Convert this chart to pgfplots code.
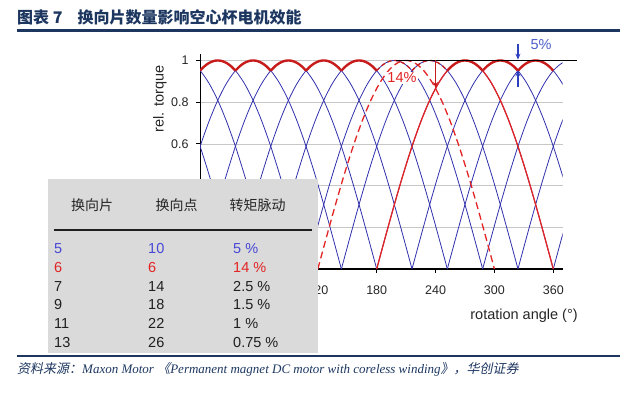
\documentclass[border=0pt]{standalone}
\usepackage{fontspec}
\setmainfont{Liberation Sans}
\newfontfamily\cjk{Noto Sans CJK SC}
\newfontfamily\cjksl[FakeSlant=0.2]{Noto Sans CJK SC}
\newfontfamily\serifit{Liberation Serif}
\usepackage{pgfplots}
\pgfplotsset{compat=1.18}
\usepackage{pgfplotstable}
\usetikzlibrary{arrows.meta}

\definecolor{bl}{RGB}{48,48,172}
\definecolor{tblue}{RGB}{72,72,215}
\definecolor{rd}{RGB}{226,36,36}
\definecolor{drd}{RGB}{200,28,28}
\definecolor{navy}{RGB}{28,54,96}
\definecolor{boxgray}{RGB}{218,218,218}
\definecolor{arrblue}{RGB}{45,65,190}

% one commutation arch (relative torque vs. angle)
\pgfplotstableread{
a s
0 0
9 0.1564
18 0.3090
27 0.4540
36 0.5878
45 0.7071
54 0.8090
63 0.8910
72 0.9511
81 0.9877
90 1
99 0.9877
108 0.9511
117 0.8910
126 0.8090
135 0.7071
144 0.5878
153 0.4540
162 0.3090
171 0.1564
180 0
}\arch

% envelope hump (5 segments)
\pgfplotstableread{
a s
0 0.9511
4.5 0.9724
9 0.9877
13.5 0.9969
18 1
22.5 0.9969
27 0.9877
31.5 0.9724
36 0.9511
}\hump

\begin{document}
\begin{tikzpicture}
\path[use as bounding box] (0pt,0pt) rectangle (636pt,394pt);
\begin{axis}[
  at={(200.1pt,125pt)}, anchor=south west,
  scale only axis, width=362.5pt, height=214.8pt,
  xmin=0, xmax=369.5, ymin=0, ymax=1.03,
  axis x line=bottom, axis y line=left,
  axis line style={-, black, line width=1.1pt},
  xtick={0,60,120,180,240,300,360},
  xticklabels={,,120,180,240,300,360},
  ytick={0,0.2,0.4,0.6,0.8,1},
  yticklabels={,,,0.6,0.8,1},
  ymajorgrids,
  major grid style={draw=black!22, line width=0.6pt},
  tick align=outside,
  major tick length=4pt,
  tick style={black, line width=0.8pt},
  ticklabel style={font=\fontsize{12.5}{13}\selectfont, text=black!85},
  xticklabel style={yshift=-9pt},
  yticklabel style={xshift=-4pt},
]
\pgfplotsinvokeforeach{-4,...,10}{
  \addplot[bl, line width=0.8pt, smooth] table[x expr=\thisrow{a}+36*#1, y=s]{\arch};
}
\addplot[rd, line width=1.3pt, smooth, dash pattern=on 7pt off 4pt] table[x expr=\thisrow{a}+120, y=s]{\arch};
\addplot[rd, line width=1.3pt, smooth] table[x expr=\thisrow{a}+180, y=s]{\arch};
\pgfplotsinvokeforeach{0,...,4}{
  \addplot[drd, line width=2.4pt, smooth] table[x expr=\thisrow{a}+36*#1, y=s]{\hump};
}
\pgfplotsinvokeforeach{5,6}{
  \addplot[drd, line width=1.3pt, smooth, dash pattern=on 4pt off 3pt] table[x expr=\thisrow{a}+36*#1, y=s]{\hump};
}
\pgfplotsinvokeforeach{7,...,9}{
  \addplot[drd, line width=2.4pt, smooth] table[x expr=\thisrow{a}+36*#1, y=s]{\hump};
}
\coordinate (blA) at (axis cs:200,1);
\coordinate (blB) at (axis cs:384,1);
\coordinate (r14a) at (axis cs:240,1);
\coordinate (r14b) at (axis cs:240,0.868);
\coordinate (l14) at (axis cs:205.8,0.916);
\coordinate (b5a) at (axis cs:324,1.078);
\coordinate (b5b) at (axis cs:324,1.004);
\coordinate (b5c) at (axis cs:324,0.875);
\coordinate (b5d) at (axis cs:324,0.953);
\coordinate (l5) at (axis cs:347.5,1.074);
\coordinate (ylab) at (axis cs:-40.9,0.815);
\coordinate (xlab) at (axis cs:330.2,-0.225);
\end{axis}

% annotations
\draw[black, line width=0.9pt] (blA) -- (blB);
\draw[drd, line width=1.1pt, -{Stealth[length=6pt,width=5pt]}] (r14a) -- (r14b);
\node[fill=white, inner sep=1pt, text=rd, font=\fontsize{14.5}{15}\selectfont] at (l14) {14\%};
\draw[arrblue, line width=1.2pt, -{Stealth[length=6pt,width=5pt]}] (b5a) -- (b5b);
\draw[arrblue, line width=1.2pt, -{Stealth[length=6pt,width=5pt]}] (b5c) -- (b5d);
\node[text=arrblue!85!white, font=\fontsize{14.5}{15}\selectfont] at (l5) {5\%};
\node[rotate=90, font=\fontsize{14.5}{15}\selectfont, text=black!85] at (ylab) {rel. torque};
\node[font=\fontsize{14.5}{15}\selectfont, text=black!85] at (xlab) {rotation angle (°)};

\begin{scope}[x=1pt, y=1pt]
% title
\node[anchor=west, text=navy, font=\cjk\bfseries\fontsize{16}{17}\selectfont, inner sep=0pt] at (17,377) {图表 7\hspace{15pt}换向片数量影响空心杯电机效能};
\fill[navy] (17,362.4) rectangle (620,365);
% table box
\fill[boxgray] (48,41) rectangle (318,215);
\node[font=\cjk\fontsize{14}{15}\selectfont, text=black!85] at (92,189) {换向片};
\node[font=\cjk\fontsize{14}{15}\selectfont, text=black!85] at (176.5,189) {换向点};
\node[font=\cjk\fontsize{14}{15}\selectfont, text=black!85] at (257.5,189) {转矩脉动};
\fill[black!88] (54,163.5) rectangle (312,165.5);
\begin{scope}[every node/.style={anchor=west, inner sep=0pt, font=\fontsize{14.5}{15}\selectfont}]
\node[text=tblue] at (54,145.3) {5};
\node[text=tblue] at (148,145.3) {10};
\node[text=tblue] at (233,145.3) {5 \%};
\node[text=rd] at (54,126.6) {6};
\node[text=rd] at (148,126.6) {6};
\node[text=rd] at (233,126.6) {14 \%};
\node[text=black!88] at (54,107.9) {7};
\node[text=black!88] at (148,107.9) {14};
\node[text=black!88] at (233,107.9) {2.5 \%};
\node[text=black!88] at (54,89.2) {9};
\node[text=black!88] at (148,89.2) {18};
\node[text=black!88] at (233,89.2) {1.5 \%};
\node[text=black!88] at (54,70.5) {11};
\node[text=black!88] at (148,70.5) {22};
\node[text=black!88] at (233,70.5) {1 \%};
\node[text=black!88] at (54,51.8) {13};
\node[text=black!88] at (148,51.8) {26};
\node[text=black!88] at (233,51.8) {0.75 \%};
\end{scope}
% bottom rule and source
\fill[navy] (17,36.8) rectangle (620,39.4);
\node[anchor=west, inner sep=0pt, text=navy] at (17,25) {\fontsize{13}{14}\selectfont{\cjksl 资料来源：}{\serifit\itshape Maxon Motor }{\cjksl 《}{\serifit\itshape Permanent magnet DC motor with coreless winding}{\cjksl 》，华创证券}};
\end{scope}
\end{tikzpicture}
\end{document}
